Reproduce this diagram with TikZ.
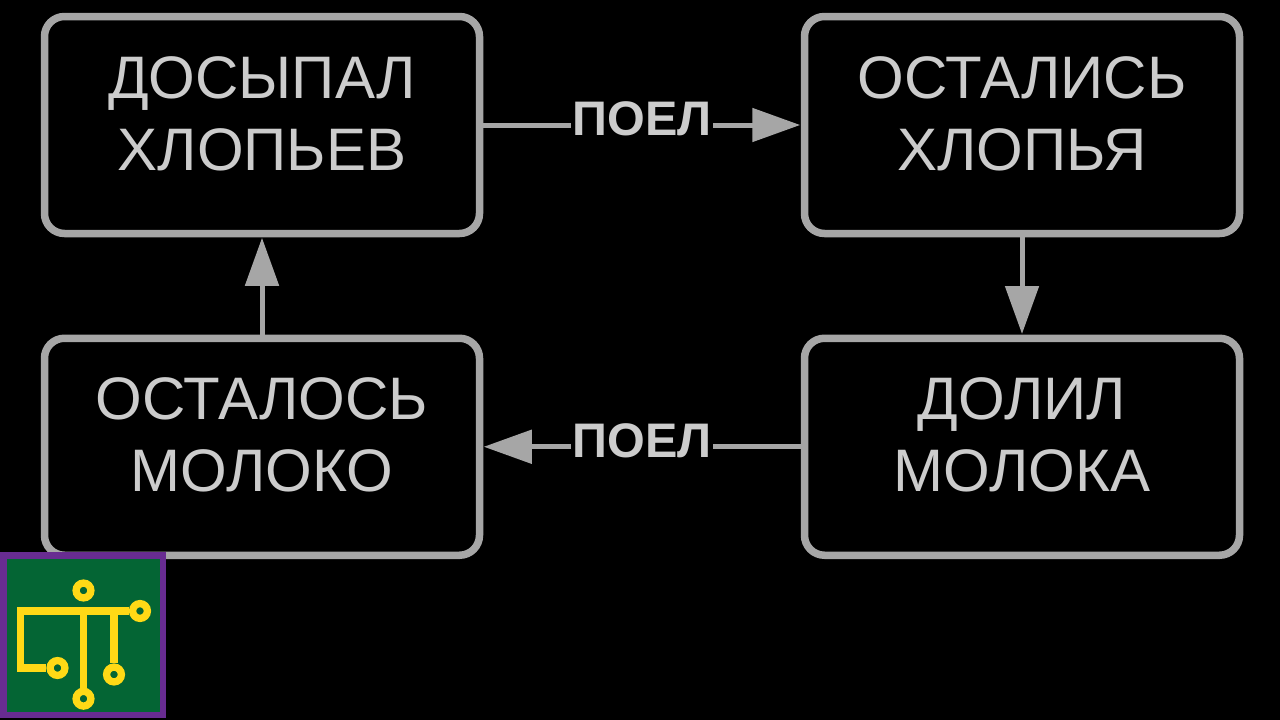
\documentclass[tikz,border=0pt]{standalone}
\usepackage{fontspec}
\setmainfont{Liberation Sans}
\usetikzlibrary{arrows.meta}
\definecolor{edgegrey}{HTML}{A6A6A6}
\definecolor{textgrey}{HTML}{CCCCCC}
\definecolor{logopurple}{HTML}{682C91}
\definecolor{logogreen}{HTML}{046534}
\definecolor{logoyellow}{HTML}{FFD916}
\tikzset{
  statebox/.style={draw=edgegrey,line width=7.5pt,rounded corners=20pt,fill=black,
    minimum width=435pt,minimum height=217pt,inner sep=0pt,align=center,
    text=textgrey,font=\fontsize{60}{72}\selectfont,text height=100pt,text depth=10pt},
  flow/.style={draw=edgegrey,line width=5pt,-{Triangle[length=48pt,width=33pt]},shorten >=0.5pt},
  flowlabel/.style={fill=black,inner xsep=2pt,inner ysep=0pt,text=textgrey,yshift=6pt,
    font=\fontsize{48.5}{48.5}\selectfont\bfseries,text height=33pt,text depth=0pt},
  pin/.style={circle,draw=logoyellow,line width=7.3pt,fill=logogreen,minimum size=14.8pt,inner sep=0pt},
  trace/.style={draw=logoyellow,line width=7.3pt},
}
\begin{document}
\begin{tikzpicture}[x=1pt,y=-1pt]
\useasboundingbox (0,0) rectangle (1280,720);
\fill[black] (0,0) rectangle (1280,720);
\node[statebox] (a) at (262,125) {ДОСЫПАЛ\\ХЛОПЬЕВ};
\node[statebox] (b) at (1022,125) {ОСТАЛИСЬ\\ХЛОПЬЯ};
\node[statebox] (c) at (1022,446.75) {ДОЛИЛ\\МОЛОКА};
\node[statebox] (d) at (262,446.75) {ОСТАЛОСЬ\\МОЛОКО};
\draw[flow] (a.east) -- node[flowlabel] (l1) {ПОЕЛ} (b.west);
\draw[flow] (b.south) -- (c.north);
\draw[flow] (c.west) -- node[flowlabel] (l2) {ПОЕЛ} (d.east);
\draw[flow] (d.north) -- (a.south);
% logo
\node[draw=logopurple,fill=logogreen,line width=6.5pt,minimum size=159.5pt,inner sep=0pt] (logo) at (83,635) {};
\node[pin] (p1) at (83.5,590.5) {};
\node[pin] (p2) at (140,611) {};
\node[pin] (p3) at (57.5,668) {};
\node[pin] (p4) at (114,674.5) {};
\node[pin] (p5) at (83.5,698.7) {};
\coordinate (j1) at (83.5,611);
\coordinate (j2) at (114,611);
\coordinate (k) at (20.7,611);
\coordinate (m) at (20.7,668);
\draw[trace,line join=miter] (p2) -- (k) -- (m) -- (p3);
\draw[trace] (j1) -- (p5);
\draw[trace] (j2) -- (p4);
\end{tikzpicture}
\end{document}
